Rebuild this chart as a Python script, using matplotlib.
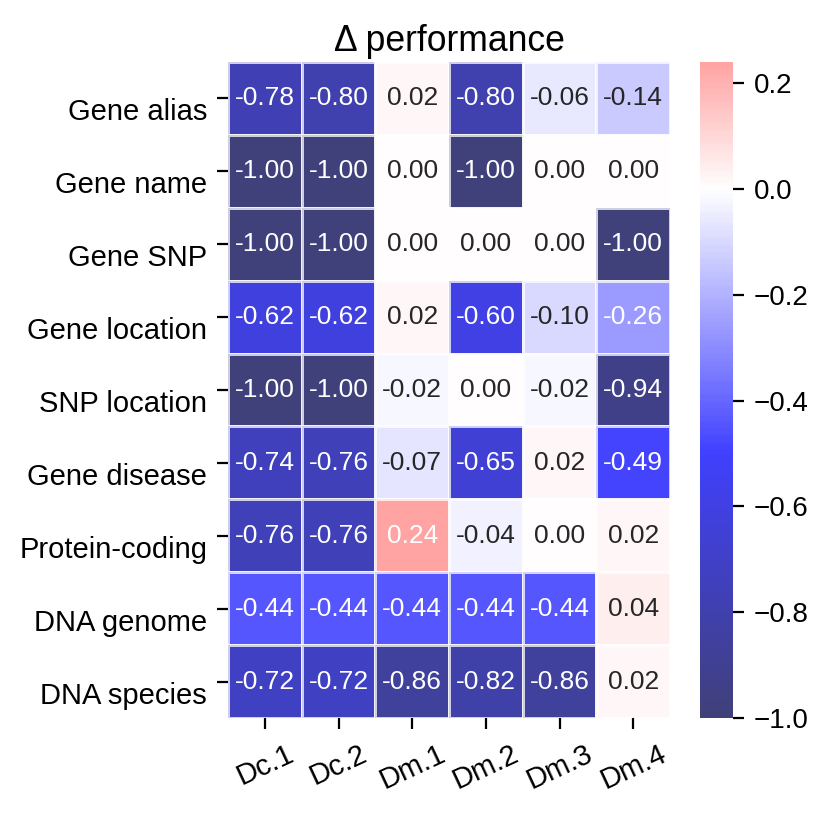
import matplotlib
matplotlib.use("Agg")
import matplotlib.pyplot as plt
import numpy as np
import pandas as pd
import seaborn as sns

rows = ["Gene alias", "Gene name", "Gene SNP", "Gene location", "SNP location",
        "Gene disease", "Protein-coding", "DNA genome", "DNA species"]
cols = ["Dc.1", "Dc.2", "Dm.1", "Dm.2", "Dm.3", "Dm.4"]

gene_alias = [-0.78, -0.80, 0.02, -0.80, -0.06, -0.14]
gene_name = [-1.00, -1.00, 0.00, -1.00, 0.00, 0.00]
gene_snp = [-1.00, -1.00, 0.00, 0.00, 0.00, -1.00]
gene_location = [-0.62, -0.62, 0.02, -0.60, -0.10, -0.26]
snp_location = [-1.00, -1.00, -0.02, 0.00, -0.02, -0.94]
gene_disease = [-0.74, -0.76, -0.07, -0.65, 0.02, -0.49]
protein_coding = [-0.76, -0.76, 0.24, -0.04, 0.00, 0.02]
dna_genome = [-0.44, -0.44, -0.44, -0.44, -0.44, 0.04]
dna_species = [-0.72, -0.72, -0.86, -0.82, -0.86, 0.02]

df = pd.DataFrame([gene_alias, gene_name, gene_snp, gene_location, snp_location,
                   gene_disease, protein_coding, dna_genome, dna_species],
                  index=rows, columns=cols)

plt.rcParams['font.family'] = ['Liberation Sans', 'DejaVu Sans']
plt.rcParams['font.size'] = 10

fig = plt.figure(figsize=(831/200, 814/200), dpi=200)
ax = fig.add_axes([228/831, 1-718/814, (670-228)/831, (718-62)/814])
cax = fig.add_axes([700/831, 1-718/814, (733-700)/831, (718-62)/814])

sns.heatmap(df, ax=ax, cbar_ax=cax, cmap="seismic", center=0, alpha=0.75,
            annot=True, fmt=".2f", annot_kws={"fontsize": 9.5},
            linewidths=0.5, linecolor="white")

ax.set_title("Δ performance", fontsize=12.8, pad=4)
ax.tick_params(axis="both", length=4, width=0.8, labelsize=10.5)
ax.tick_params(axis="x", pad=4)
ax.set_xticklabels(cols, rotation=25)
ax.set_yticklabels(rows, rotation=0, va="top")
cax.tick_params(length=4, width=0.8, labelsize=10)
cax.set_yticks([0.2, 0.0, -0.2, -0.4, -0.6, -0.8, -1.0])

fig.savefig("out.png", dpi=200)
